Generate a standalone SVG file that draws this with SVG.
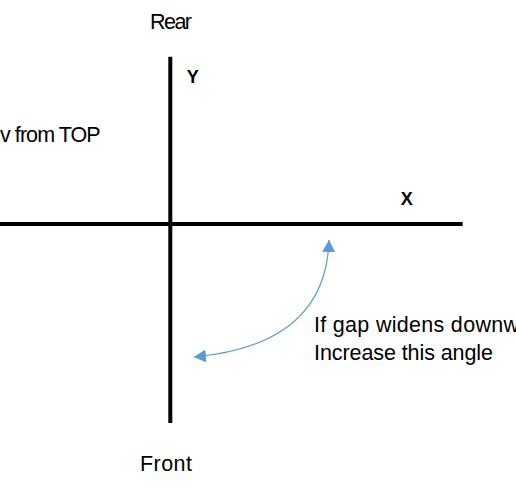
<svg xmlns="http://www.w3.org/2000/svg" width="516" height="492" viewBox="0 0 516 492">
  <style>
    .lbl { font-family: "Liberation Sans", Arial, sans-serif; font-size: 21.5px; fill: #000; }
    .axis-lbl { font-family: "Liberation Sans", Arial, sans-serif; font-size: 18px; font-weight: bold; fill: #000; }
    .axis { stroke: #000; stroke-width: 4; fill: none; }
    .arc { stroke: #5B9BD5; stroke-width: 1.2; fill: none; }
  </style>
  <defs>
    <marker id="ah" viewBox="0 0 12 13" refX="12" refY="6.5" markerWidth="12" markerHeight="13" markerUnits="userSpaceOnUse" orient="auto-start-reverse">
      <path d="M0,0 L12,6.5 L0,13 z" fill="#5B9BD5"/>
    </marker>
  </defs>
  <rect width="516" height="492" fill="#fff"/>
  <g id="connectors">
    <line id="y-axis" class="axis" x1="170.3" y1="56.7" x2="170.3" y2="423"/>
    <line id="x-axis" class="axis" x1="0" y1="224" x2="462.7" y2="224"/>
    <path id="angle-arrow" class="arc" d="M194,357 Q326,345 329,240" marker-start="url(#ah)" marker-end="url(#ah)"/>
  </g>
  <g id="rear"><text class="lbl" x="150" y="29.3" textLength="42">Rear</text></g>
  <g id="front"><text class="lbl" x="140" y="470.7" textLength="52">Front</text></g>
  <g id="y-label"><text class="axis-lbl" x="186.7" y="83">Y</text></g>
  <g id="x-label"><text class="axis-lbl" x="400.7" y="205">X</text></g>
  <g id="view"><text class="lbl" x="0" y="141.7" textLength="100.7">v from TOP</text></g>
  <g id="note">
    <text class="lbl" x="314" y="331.5" textLength="205">If gap widens downw</text>
    <text class="lbl" x="314" y="360" textLength="179">Increase this angle</text>
  </g>
</svg>
